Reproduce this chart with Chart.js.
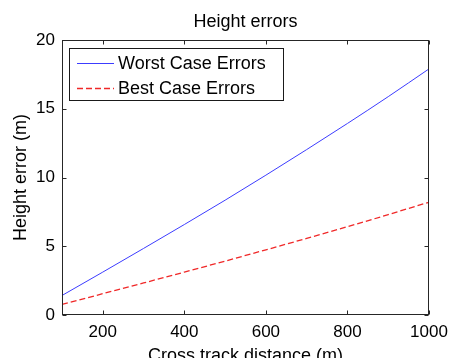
<!DOCTYPE html>
<html><head><meta charset="utf-8">
<script src="https://cdn.jsdelivr.net/npm/chart.js@4"></script>
<style>
html,body{margin:0;padding:0;overflow:hidden;background:#fff;width:474px;height:358px}
#wrap{width:474px;height:372px;position:relative}
</style>
</head><body><div id="wrap"><canvas id="c" width="474" height="372"></canvas></div>
<script>
const distances = [100, 200, 300, 400, 500, 600, 700, 800, 900, 1000];
const worstCase = [1.42, 3.12, 4.84, 6.58, 8.35, 10.17, 12.03, 13.93, 15.88, 17.9];
const bestCase  = [0.77, 1.55, 2.33, 3.12, 3.92, 4.74, 5.57, 6.42, 7.3, 8.2];
const xTicks = [200, 400, 600, 800, 1000];
const yTicks = [0, 5, 10, 15, 20];
const seriesLabels = ['Worst Case Errors', 'Best Case Errors'];

const FAM = '"Liberation Sans", Arial, Helvetica, sans-serif';
const textFont = {family: FAM, size: 18, weight: 'normal'};
const tickFont = {family: FAM, size: 17, weight: 'normal'};

const centerTitle = {
  id: 'centerTitle',
  afterLayout(chart) {
    const tb = chart.titleBlock;
    if (tb) {
      tb.left = chart.chartArea.left;
      tb.right = chart.chartArea.right;
      tb.width = tb.right - tb.left;
    }
  }
};

const boxPlugin = {
  id: 'matlabBox',
  afterDatasetsDraw(chart) {
    const {ctx, chartArea: a, scales} = chart;
    const L = Math.round(a.left) + 0.5, R = Math.round(a.right) - 0.5;
    const T = Math.round(a.top) + 0.5, B = Math.round(a.bottom) - 0.5;
    ctx.save();
    ctx.strokeStyle = '#262626';
    ctx.lineWidth = 1;
    ctx.setLineDash([]);
    ctx.strokeRect(L, T, R - L, B - T);
    const tl = 4;
    ctx.beginPath();
    xTicks.forEach(v => {
      const px = Math.round(scales.x.getPixelForValue(v)) + 0.5;
      ctx.moveTo(px, B); ctx.lineTo(px, B - tl);
      ctx.moveTo(px, T); ctx.lineTo(px, T + tl);
    });
    yTicks.forEach(v => {
      const py = Math.round(scales.y.getPixelForValue(v)) + 0.5;
      ctx.moveTo(L, py); ctx.lineTo(L + tl, py);
      ctx.moveTo(R, py); ctx.lineTo(R - tl, py);
    });
    ctx.stroke();

    // legend box inside plot
    const bx = 69.5, by = 48.5, bw = 214, bh = 52;
    ctx.fillStyle = '#fff';
    ctx.fillRect(bx, by, bw, bh);
    ctx.strokeStyle = '#1a1a1a';
    ctx.strokeRect(bx, by, bw, bh);
    const rows = [63, 88];
    chart.data.datasets.forEach((ds, i) => {
      const y = rows[i] + 0.5;
      ctx.save();
      ctx.strokeStyle = ds.borderColor;
      ctx.lineWidth = ds.borderWidth;
      ctx.setLineDash(ds.borderDash || []);
      ctx.beginPath();
      ctx.moveTo(77, y); ctx.lineTo(114, y);
      ctx.stroke();
      ctx.restore();
      ctx.fillStyle = '#000';
      ctx.font = `${textFont.size}px ${FAM}`;
      ctx.textBaseline = 'middle';
      ctx.textAlign = 'left';
      ctx.fillText(ds.label, 118, rows[i] + 1);
    });
    ctx.restore();
  }
};

new Chart(document.getElementById('c'), {
  type: 'line',
  data: {
    datasets: [
      {
        label: seriesLabels[0],
        data: distances.map((x, i) => ({x, y: worstCase[i]})),
        borderColor: '#3c3cff',
        borderWidth: 1,
        pointRadius: 0,
        cubicInterpolationMode: 'monotone',
        fill: false
      },
      {
        label: seriesLabels[1],
        data: distances.map((x, i) => ({x, y: bestCase[i]})),
        borderColor: '#f02828',
        borderWidth: 1.3,
        borderDash: [6, 3],
        pointRadius: 0,
        cubicInterpolationMode: 'monotone',
        fill: false
      }
    ]
  },
  options: {
    responsive: false,
    animation: false,
    devicePixelRatio: 1,
    layout: {padding: {left: 0, right: 45, top: 0, bottom: 0}},
    plugins: {
      legend: {display: false},
      tooltip: {enabled: false},
      title: {
        display: true,
        text: 'Height errors',
        font: textFont,
        color: '#000',
        padding: {top: 11, bottom: 7.4}
      }
    },
    scales: {
      x: {
        type: 'linear',
        min: 100,
        max: 1000,
        afterBuildTicks: s => { s.ticks = xTicks.map(v => ({value: v})); },
        afterFit: s => { s.height = 57; },
        grid: {display: false, drawTicks: false},
        border: {display: false},
        ticks: {font: tickFont, color: '#000', padding: 7, maxRotation: 0, autoSkip: false,
                callback: v => String(v)},
        title: {display: true, text: 'Cross track distance (m)', font: textFont, color: '#000', padding: {top: 0, bottom: 5}}
      },
      y: {
        type: 'linear',
        min: 0,
        max: 20,
        afterBuildTicks: s => { s.ticks = yTicks.map(v => ({value: v})); },
        afterFit: s => { s.width = 62; },
        grid: {display: false, drawTicks: false},
        border: {display: false},
        ticks: {font: tickFont, color: '#000', padding: 7, autoSkip: false,
                callback: v => String(v)},
        title: {display: true, text: 'Height error (m)', font: textFont, color: '#000', padding: {top: 10, bottom: 0}}
      }
    }
  },
  plugins: [centerTitle, boxPlugin]
});
</script>
</body></html>
